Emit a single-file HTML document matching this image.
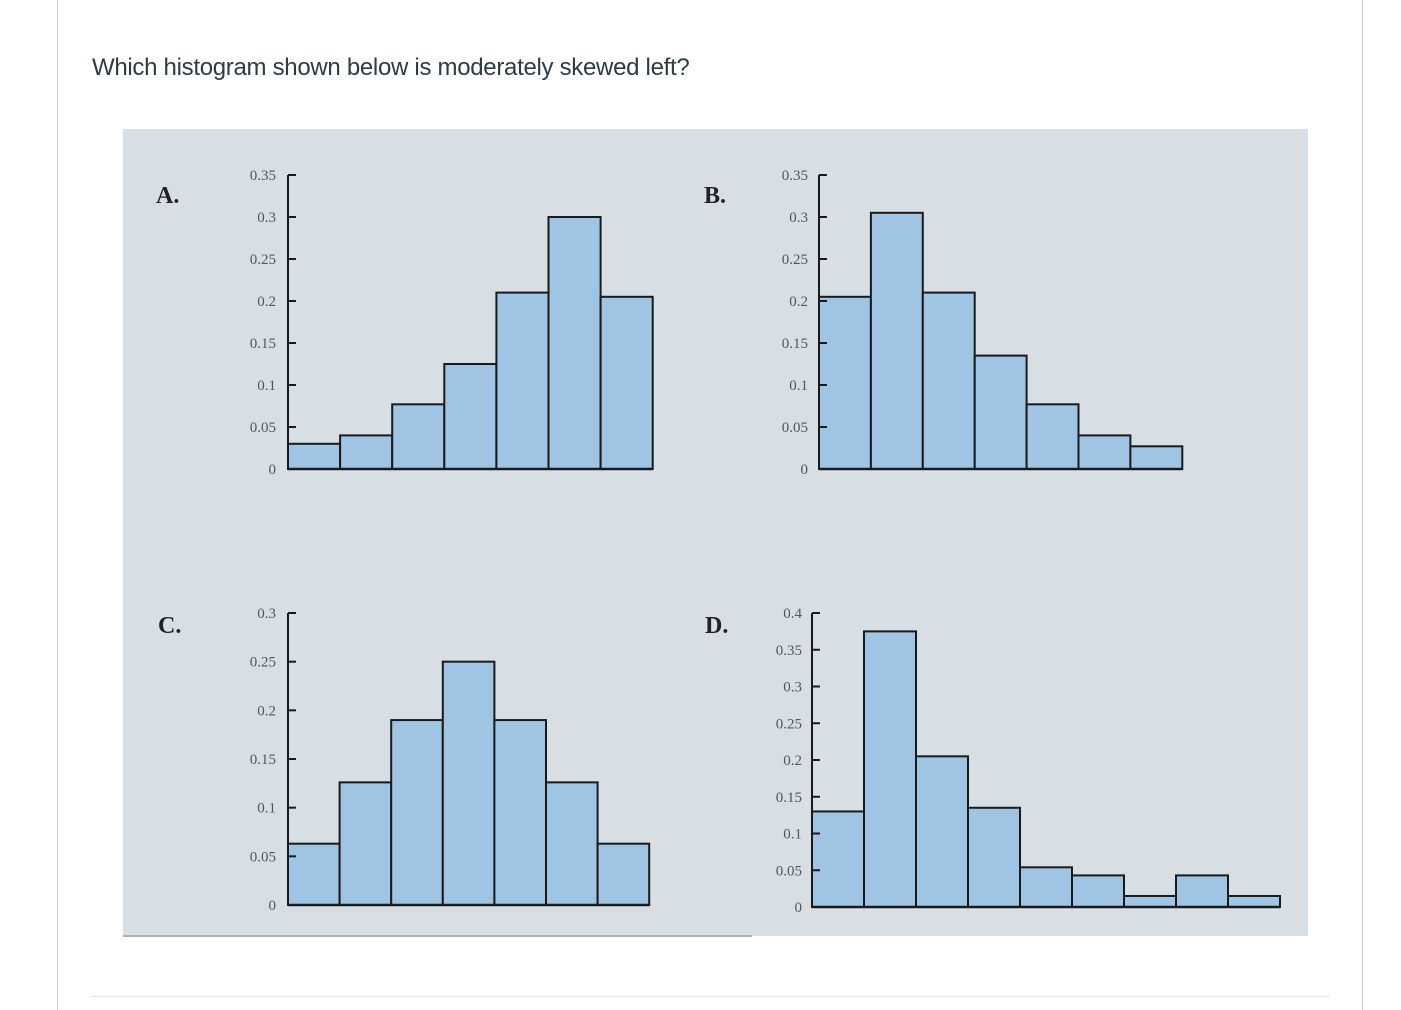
<!DOCTYPE html>
<html><head><meta charset="utf-8"><style>
html,body{margin:0;padding:0;background:#fff;width:1401px;height:1010px;overflow:hidden;position:relative}
.q{position:absolute;left:92px;top:54px;font:24px "Liberation Sans",sans-serif;color:#2d3b45;letter-spacing:-0.3px}
</style></head><body>
<div style="position:absolute;left:57px;top:0;width:1px;height:1010px;background:#c7cdd1"></div>
<div style="position:absolute;left:1362px;top:0;width:1px;height:1010px;background:#c7cdd1"></div>
<div class="q">Which histogram shown below is moderately skewed left?</div>
<div style="position:absolute;left:91px;top:996px;width:1239px;height:1px;background:#dfe3e6"></div>
<svg id="chart" width="1401" height="1010" style="position:absolute;left:0;top:0">
<rect x="123" y="129" width="1185" height="807" fill="#d7dfe5"/>
<line x1="123" y1="936" x2="752" y2="936" stroke="#a9b0b5" stroke-width="2"/>
</svg>
<script>
const labelsA=["0","0.05","0.1","0.15","0.2","0.25","0.3","0.35"];
const valuesA=[0.03,0.04,0.077,0.125,0.21,0.30,0.205];
const labelsB=["0","0.05","0.1","0.15","0.2","0.25","0.3","0.35"];
const valuesB=[0.205,0.305,0.21,0.135,0.077,0.04,0.027];
const labelsC=["0","0.05","0.1","0.15","0.2","0.25","0.3"];
const valuesC=[0.063,0.126,0.19,0.25,0.19,0.126,0.063];
const labelsD=["0","0.05","0.1","0.15","0.2","0.25","0.3","0.35","0.4"];
const valuesD=[0.13,0.375,0.205,0.135,0.054,0.043,0.015,0.043,0.015];
const NS="http://www.w3.org/2000/svg";
const svg=document.getElementById('chart');
function mk(t,a){const e=document.createElementNS(NS,t);for(const k in a)e.setAttribute(k,a[k]);svg.appendChild(e);return e;}
function panel(id,title,tx,ty,ax,y0,ytop,ymax,bw,labels,values,labelX){
  const g=mk('g',{});
  
  
  const yS=v=>y0-(v/ymax)*(y0-ytop);
  const t=mk('text',{x:tx,y:ty,'font-family':'Liberation Serif,serif','font-size':24,'font-weight':'bold',fill:'#222'});
  t.textContent=title;
  
  
  values.forEach((v,i)=>{
    const r=mk('rect',{x:ax+i*bw,y:yS(v),width:bw,height:y0-yS(v),fill:'#a0c4e4',stroke:'#1a1a1a','stroke-width':2});
    
    
  });
  const a=mk('line',{x1:ax,y1:ytop,x2:ax,y2:y0,stroke:'#1a1a1a','stroke-width':2});
  
  
  const b=mk('line',{x1:ax,y1:y0,x2:ax+values.length*bw,y2:y0,stroke:'#1a1a1a','stroke-width':2.5});
  
  
  labels.forEach(l=>{
    const y=yS(parseFloat(l));
    if(parseFloat(l)>0){
      const tk=mk('line',{x1:ax,y1:y,x2:ax+8,y2:y,stroke:'#1a1a1a','stroke-width':2});
      
      
    }
    const tl=mk('text',{x:labelX,y:y+5,'text-anchor':'end','font-family':'Liberation Serif,serif','font-size':15,fill:'#555'});
    tl.textContent=l;
    
    
  });
}
panel('a','A.',156,203,288,469,175,0.35,52.1,labelsA,valuesA,276);
panel('b','B.',704,203,819,469,175,0.35,51.9,labelsB,valuesB,808);
panel('c','C.',158,633,288,905,613,0.3,51.6,labelsC,valuesC,276);
panel('d','D.',705,633,812,907,613,0.4,52,labelsD,valuesD,802);
</script>
</body></html>
